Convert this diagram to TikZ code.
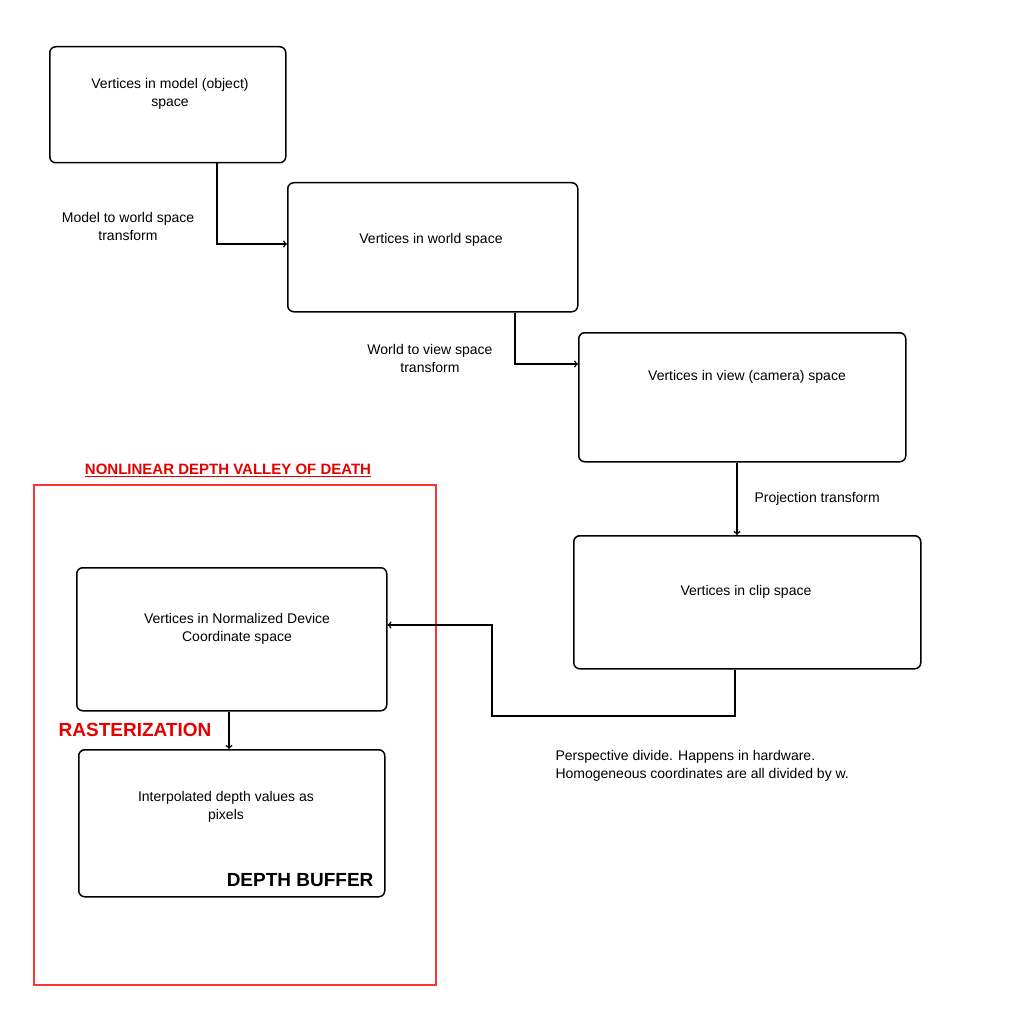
\documentclass[tikz,border=0pt]{standalone}
\usepackage{fontspec}
\setmainfont{Liberation Sans}
\usetikzlibrary{positioning}

\begin{document}
\begin{tikzpicture}[
    x=1pt, y=-1pt,
    stage/.style={rectangle, draw, line width=1.5pt, rounded corners=6pt, anchor=north west},
    label/.style={font=\fontsize{14}{18}\selectfont, align=center},
    warn/.style={font=\fontsize{19}{22}\selectfont\bfseries, text=red!90!black},
    arrow/.style={line width=1.5pt,->,>=to}
]
    \useasboundingbox (0,0) rectangle (1024,1024);

    % valley box
    \draw [red!80, line width=1.5pt] (34,485) rectangle (436,985);
    \node [warn, font=\fontsize{15}{18}\selectfont\bfseries] (valley) at (228,470) {\underline{NONLINEAR DEPTH VALLEY OF DEATH}};
    \node [warn] (raster) at (135,730) {RASTERIZATION};

    % stages
    \node [stage, minimum width=236pt, minimum height=116pt] (model) at (49,46) {};
    \node [label] at (170,94) {Vertices in model (object)\\space};

    \node [stage, minimum width=290pt, minimum height=129pt] (world) at (287,182) {};
    \node [label] at (431,240) {Vertices in world space};

    \node [stage, minimum width=327pt, minimum height=129pt] (view) at (578,332) {};
    \node [label] at (747,377) {Vertices in view (camera) space};

    \node [stage, minimum width=347pt, minimum height=133pt] (clip) at (573,535) {};
    \node [label] at (746,592) {Vertices in clip space};

    \node [stage, minimum width=310pt, minimum height=143pt] (ndc) at (76,567) {};
    \node [label] at (237,629) {Vertices in Normalized Device\\Coordinate space};

    \node [stage, minimum width=306pt, minimum height=147pt] (depth) at (78,749) {};
    \node [label] at (226,807) {Interpolated depth values as\\pixels};
    \node [font=\fontsize{19}{22}\selectfont\bfseries, anchor=east] (buffer) at (377,880) {DEPTH BUFFER};

    % transforms
    \coordinate (mw) at (217,244);
    \draw [arrow] (model.south west -| mw) -- (mw) -- (world.west |- mw);
    \node [label] at (128,226) {Model to world space\\transform};

    \coordinate (wv) at (515,364);
    \draw [arrow] (world.south west -| wv) -- (wv) -- (view.west |- wv);
    \node [label] at (430,358) {World to view space\\transform};

    \coordinate (vc) at (737,0);
    \draw [arrow] (view.south -| vc) -- (clip.north -| vc);
    \node [label, anchor=west] at (751,499) {Projection transform};

    \coordinate (c1) at (735,716);
    \coordinate (c2) at (492,716);
    \coordinate (c3) at (492,625);
    \draw [arrow] (clip.south -| c1) -- (c1) -- (c2) -- (c3) -- (ndc.east |- c3);
    \node [label, align=left, anchor=north west] at (552,747) {Perspective divide. Happens in hardware.\\Homogeneous coordinates are all divided by w.};

    \coordinate (nd) at (229,0);
    \draw [arrow] (ndc.south -| nd) -- (depth.north -| nd);
\end{tikzpicture}
\end{document}
